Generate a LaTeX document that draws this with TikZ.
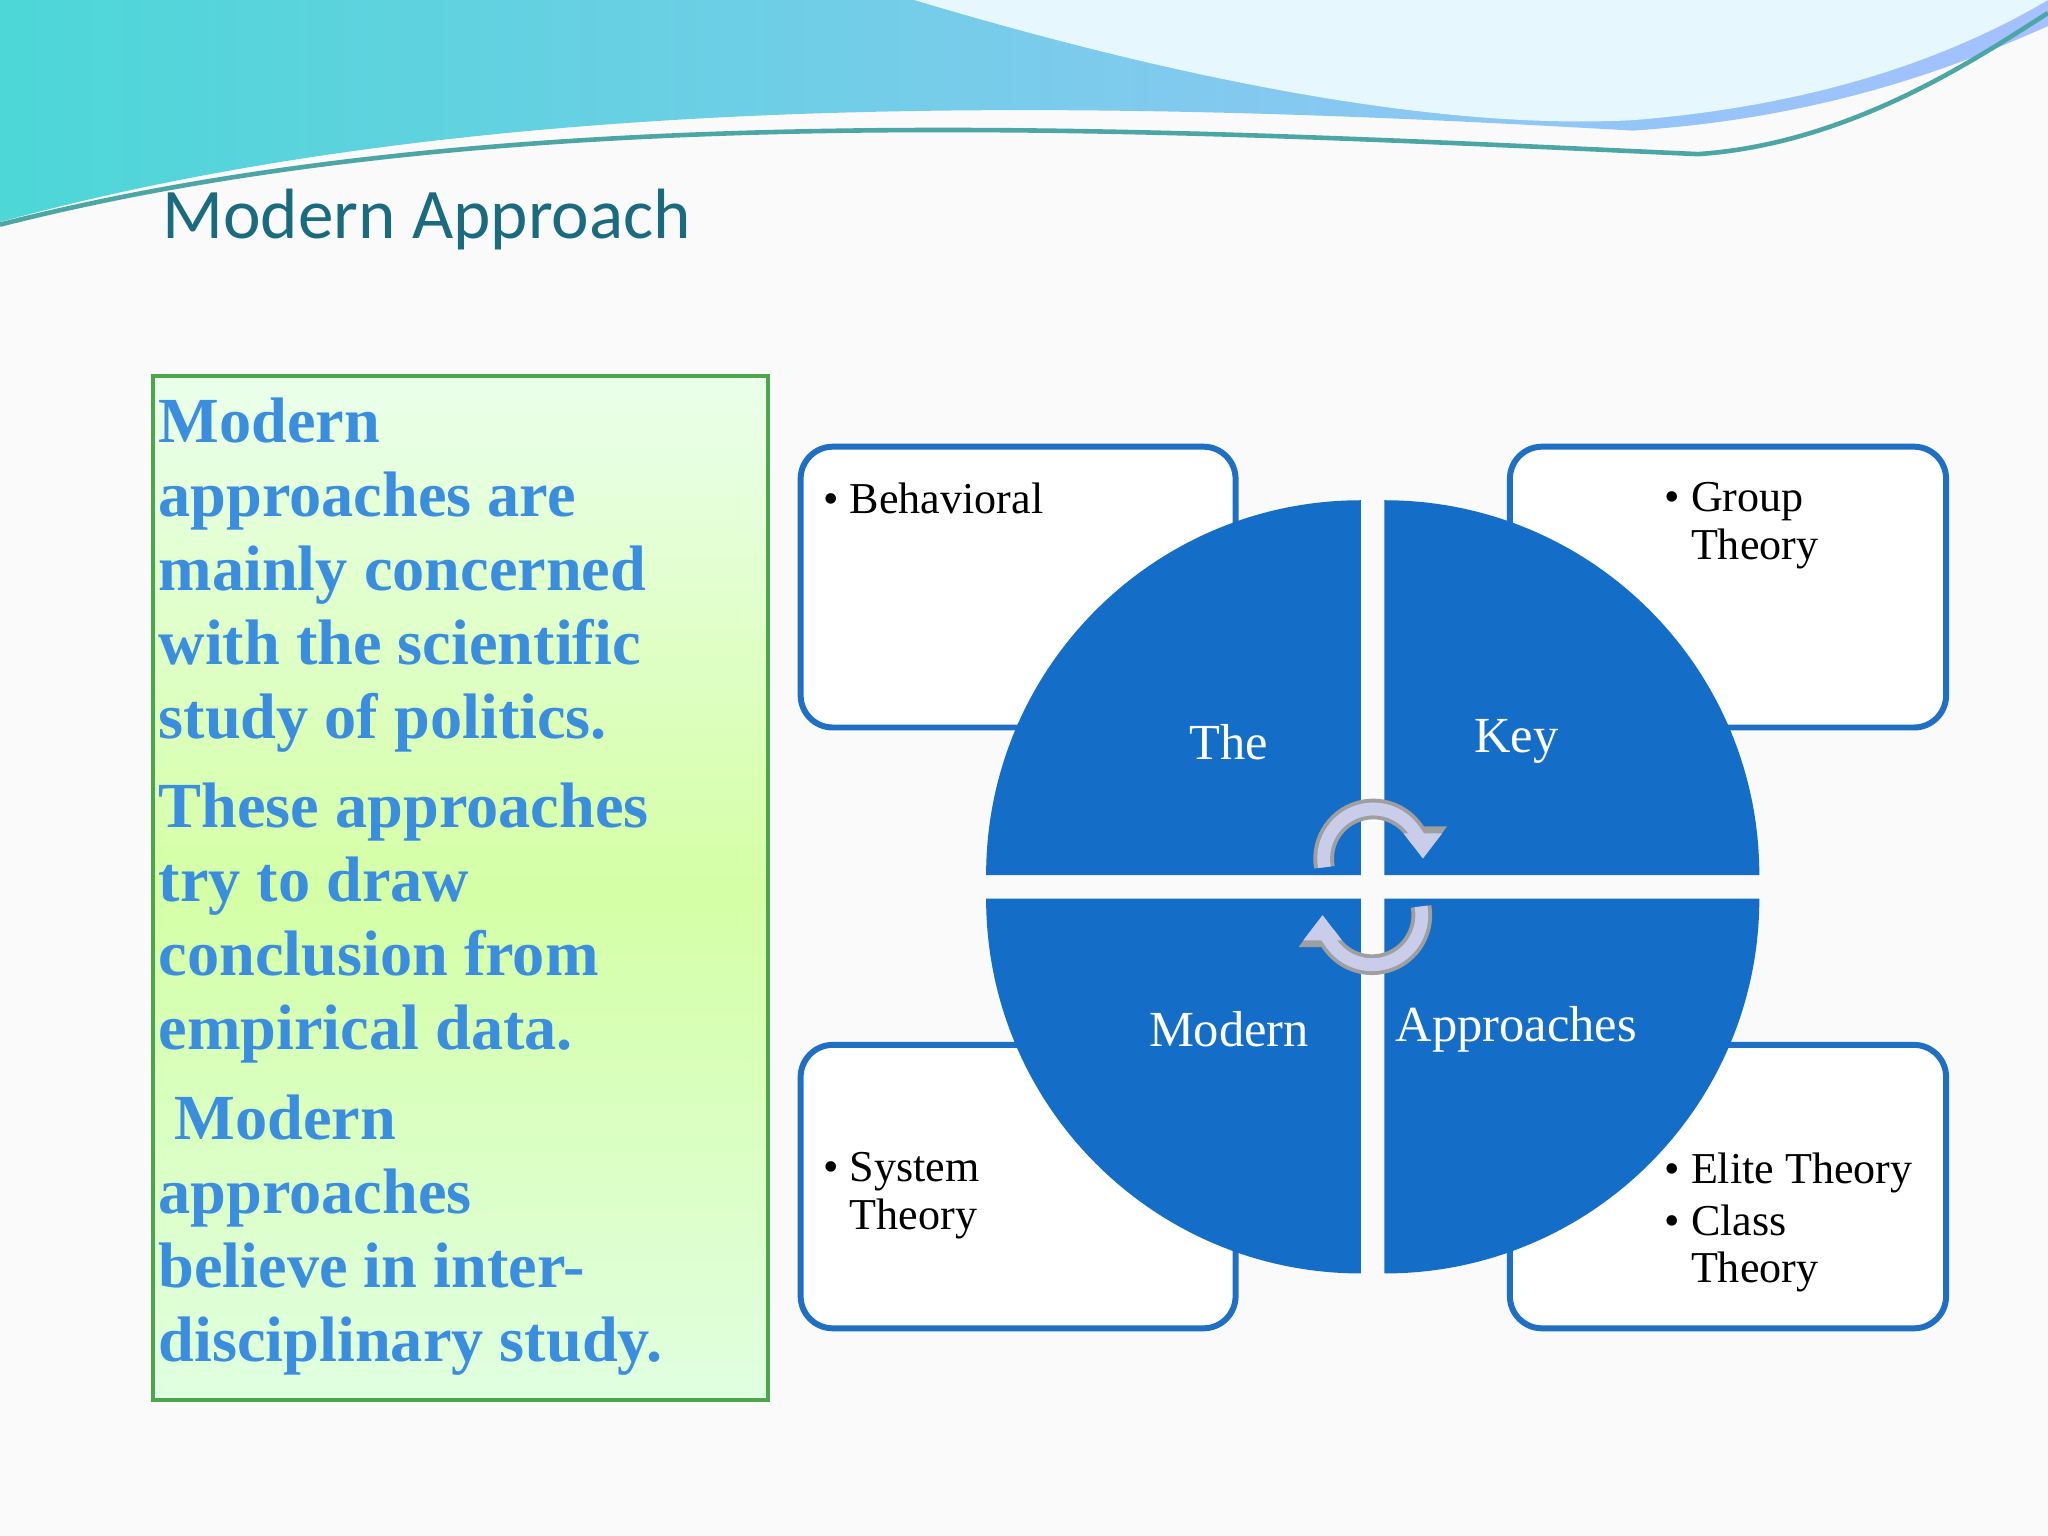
\documentclass[tikz,border=0pt]{standalone}
\usepackage{fontspec}
\setmainfont{Liberation Serif}
\newfontfamily\titlefont{Carlito}
\usetikzlibrary{positioning,arrows.meta}

\definecolor{quadblue}{HTML}{146EC8}
\definecolor{boxblue}{HTML}{1F6FC5}
\definecolor{titleteal}{HTML}{1A6A80}
\definecolor{glowblue}{HTML}{3A8EDD}
\definecolor{arrowlav}{HTML}{C9CDEA}

\tikzset{
  item/.style={draw=boxblue, line width=1.3, rounded corners=7, fill=white},
  quad/.style={fill=quadblue, draw=none},
  qlabel/.style={text=white, font=\fontsize{11}{13}\selectfont},
  blt/.style={anchor=north west, align=left, font=\fontsize{9.6}{10.3}\selectfont},
  gtext/.style={anchor=north west, align=left, text=glowblue,
                font=\bfseries\fontsize{14}{16.1}\selectfont},
  cyc/.style={line width=4.5, draw=gray!75, -{Triangle[length=7,width=10]}},
  cycin/.style={line width=2.8, draw=arrowlav, -{Triangle[length=5.5,width=8]}},
}

\begin{document}
\begin{tikzpicture}[x=0.01cm, y=-0.01cm]

    % Background and top wave
    \useasboundingbox (0,0) rectangle (1568,1176);
    \fill[gray!4] (0,0) rectangle (1568,1176);
    \shade[left color=cyan!55!teal!70, right color=cyan!30!blue!35]
      (0,0) -- (0,170) .. controls (400,60) and (900,80) .. (1250,100)
      .. controls (1400,90) and (1500,50) .. (1568,20) -- (1568,0) -- cycle;
    \fill[white!90!cyan] (700,0) .. controls (900,60) and (1100,100) .. (1250,92)
      .. controls (1400,80) and (1500,40) .. (1568,0) -- cycle;
    \draw[teal!70, line width=1] (0,172) .. controls (400,70) and (900,100) .. (1300,118)
      .. controls (1420,110) and (1520,40) .. (1568,10);

    % Title
    \node[anchor=west, text=titleteal, font=\titlefont\fontsize{15.5}{18}\selectfont]
      (title) at (112,168) {Modern Approach};

    % Green text panel
    \shade[top color=green!8, bottom color=green!12, middle color=green!30!lime!35,
           draw=green!50!black!70, line width=1] (117,288) rectangle (588,1072);
    \node[gtext] (para1) at (109,292) {Modern\\approaches are\\mainly concerned\\with the scientific\\study of politics.};
    \node[gtext] (para2) at (109,587) {These approaches\\try to draw\\conclusion from\\empirical data.};
    \node[gtext] (para3) at (109,826) {\ Modern\\approaches\\believe in inter-\\disciplinary study.};

    % Corner boxes
    \draw[item] (613,342) rectangle (946,557);
    \draw[item] (1156,342) rectangle (1490,557);
    \draw[item] (613,800) rectangle (946,1017);
    \draw[item] (1156,800) rectangle (1490,1017);
    \node[blt] (beh) at (618,357) {\textbullet\ Behavioral};
    \node[blt] (grp) at (1262,357) {\textbullet\ Group\\\phantom{\textbullet\ }Theory};
    \node[blt] (sys) at (618,870) {\textbullet\ System\\\phantom{\textbullet\ }Theory};
    \node[blt] (eli) at (1262,870) {\textbullet\ Elite Theory\\[1pt]\textbullet\ Class\\\phantom{\textbullet\ }Theory};

    % Quadrants (y axis points down)
    \fill[quad] (1042,670) -- ++(-287,0) arc[start angle=180, end angle=270, radius=287] -- cycle;
    \fill[quad] (1060,670) -- ++(0,-287) arc[start angle=270, end angle=360, radius=287] -- cycle;
    \fill[quad] (1042,688) -- ++(-287,0) arc[start angle=180, end angle=90, radius=287] -- cycle;
    \fill[quad] (1060,688) -- ++(0,287) arc[start angle=90, end angle=0, radius=287] -- cycle;
    \node[qlabel] (the) at (941,568) {The};
    \node[qlabel] (key) at (1161,568) {Key};
    \node[qlabel] (mod) at (941,788) {Modern};
    \node[qlabel] (app) at (1161,788) {Approaches};

    % Cycle arrows
    \coordinate (ctop) at (1014,664);
    \coordinate (cbot) at (1088,694);
    \draw[cyc] (ctop) arc[start angle=170, end angle=360, radius=38];
    \draw[cycin] (ctop) arc[start angle=170, end angle=360, radius=38];
    \draw[cyc] (cbot) arc[start angle=-10, end angle=180, radius=38];
    \draw[cycin] (cbot) arc[start angle=-10, end angle=180, radius=38];

\end{tikzpicture}
\end{document}
